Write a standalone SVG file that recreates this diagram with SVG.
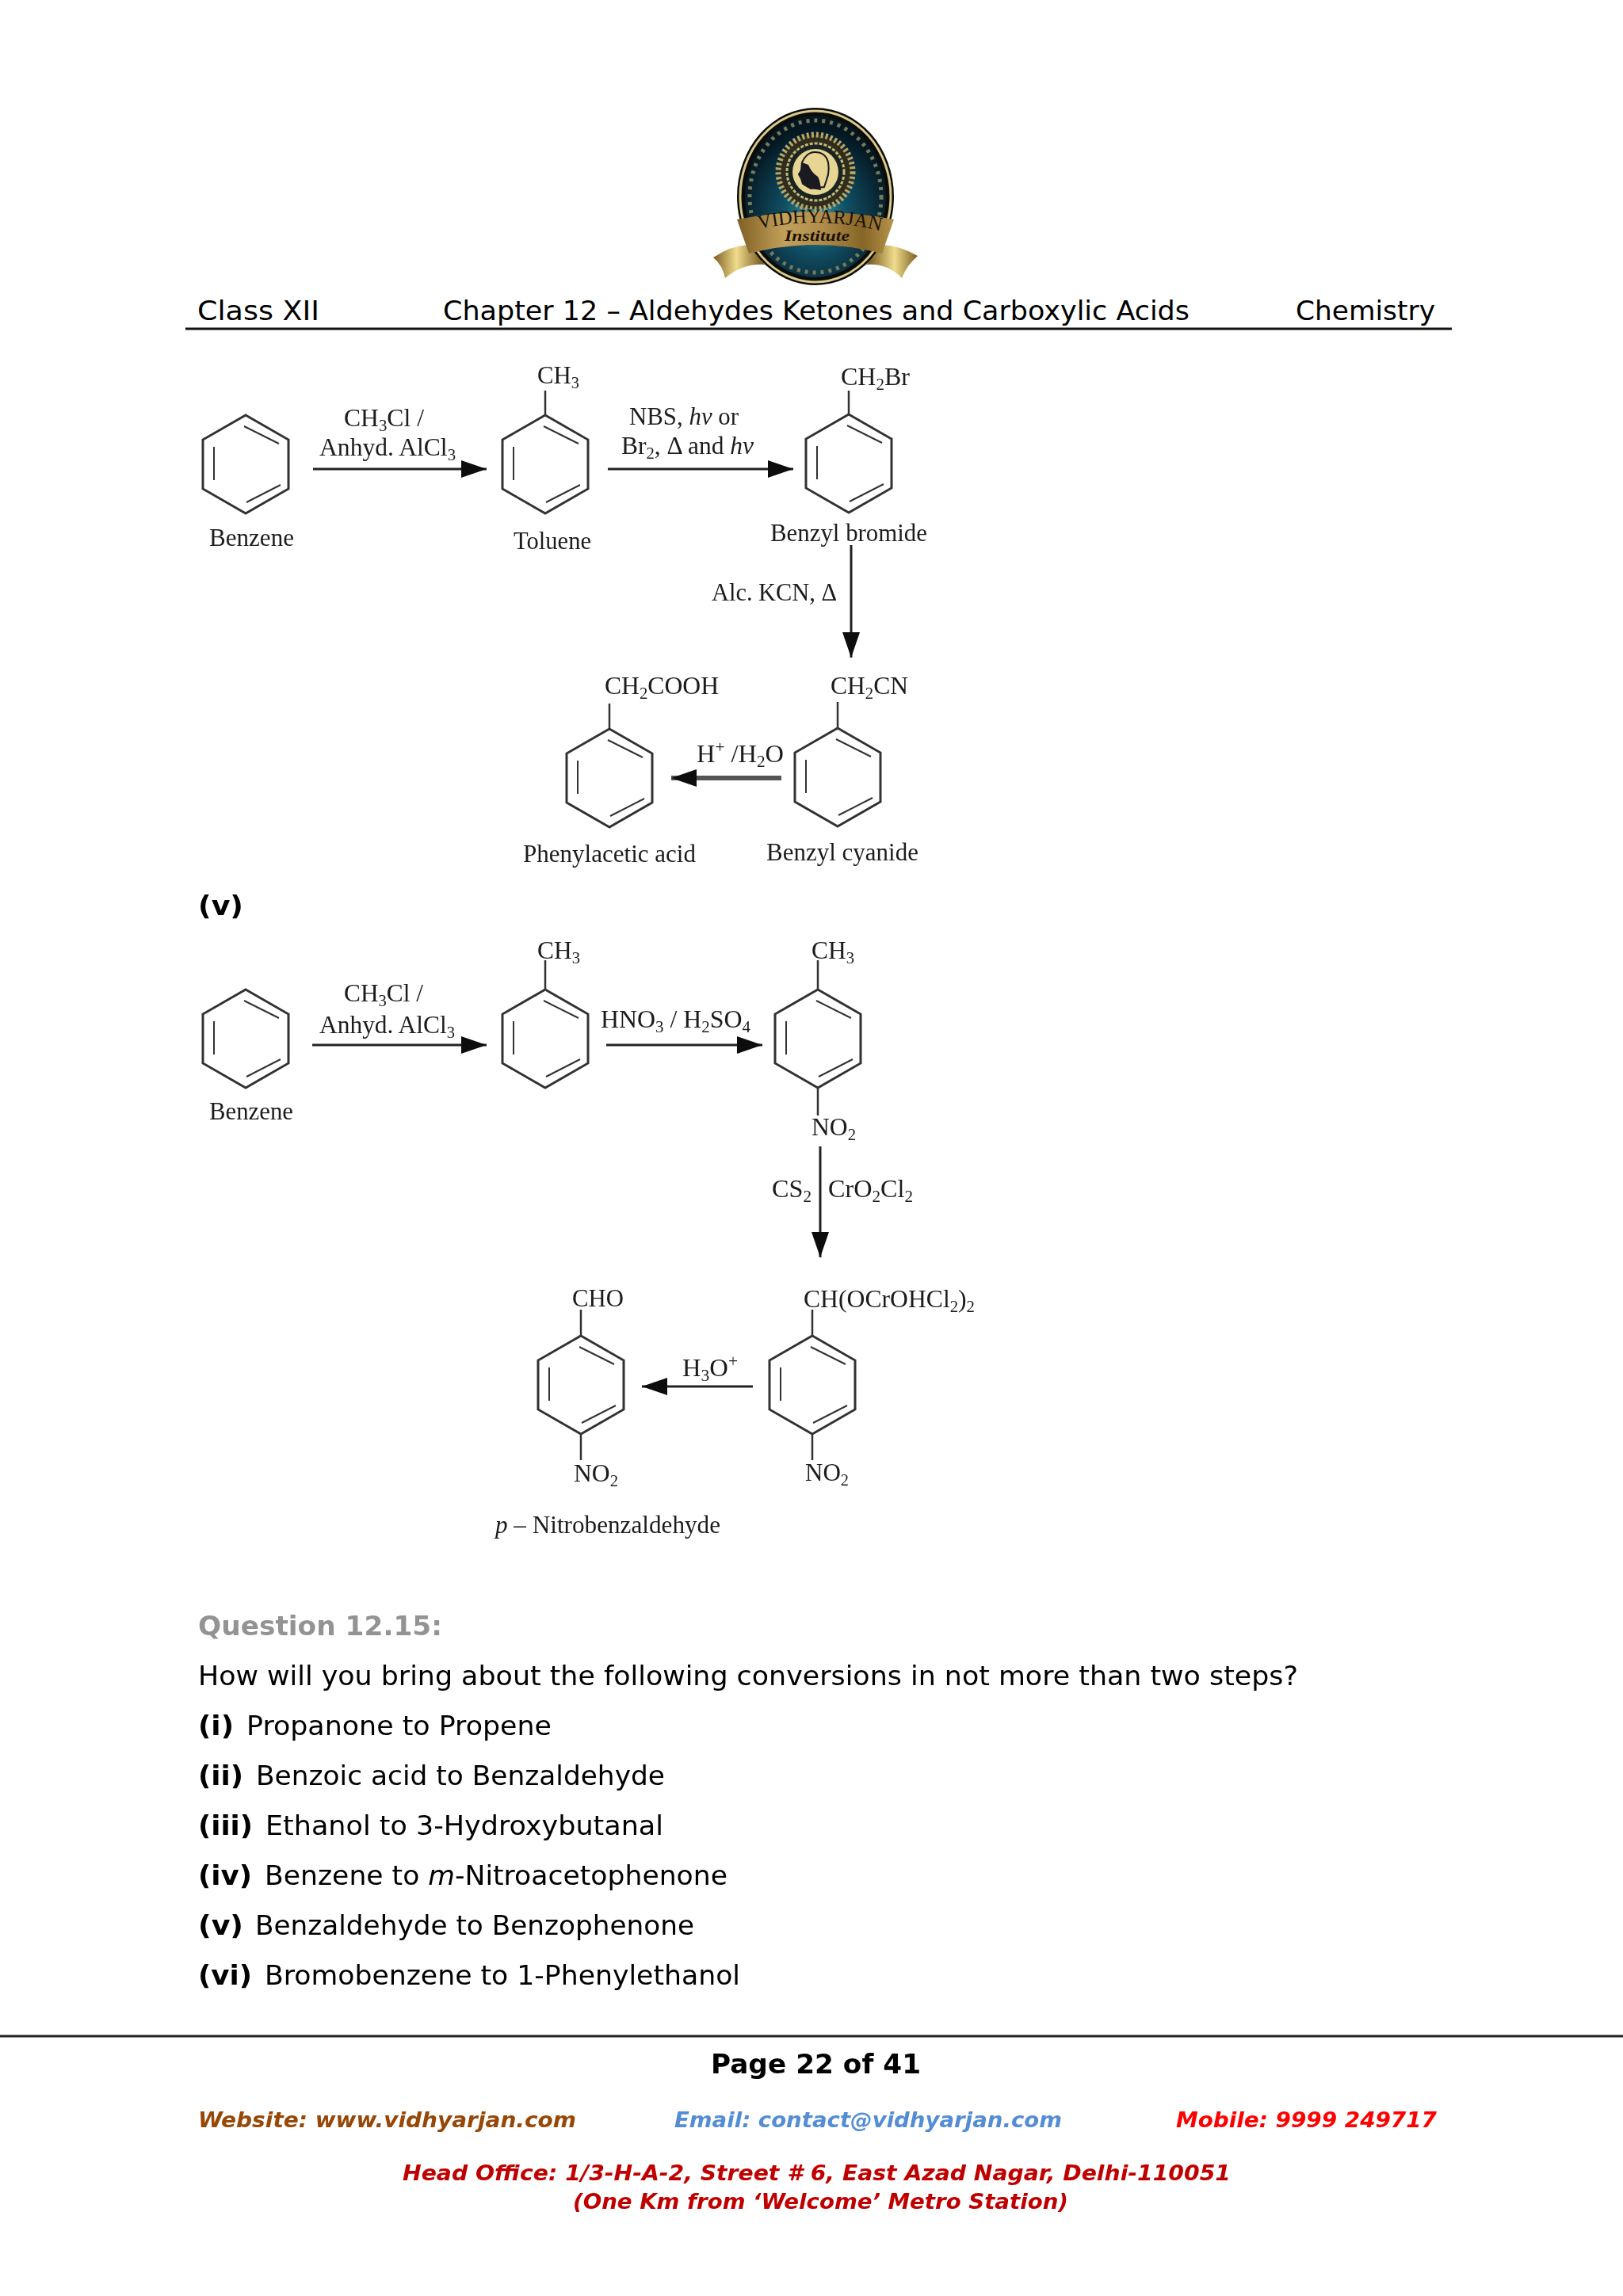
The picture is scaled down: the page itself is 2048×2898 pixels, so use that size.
<svg xmlns="http://www.w3.org/2000/svg" xmlns:xlink="http://www.w3.org/1999/xlink" width="2048" height="2898" viewBox="0 0 2048 2898">
<style>
.pg{font-family:"DejaVu Sans",Verdana,sans-serif;font-size:34px;fill:#000}
.b{font-weight:bold}
.ft{font-family:"DejaVu Sans",Verdana,sans-serif;font-size:26px;font-weight:bold;font-style:italic}
.c{font-family:"Liberation Serif","Times New Roman",serif;font-size:32px;fill:#1c1c1c}
.s{font-size:21px}
.i{font-style:italic}
.bond{stroke:#333;stroke-width:2.5;fill:none}
.ring{stroke:#333;stroke-width:3;fill:none;stroke-linejoin:miter}
.in{stroke:#333;stroke-width:2;fill:none}
.arr{stroke:#222;stroke-width:3;fill:none;marker-end:url(#ah)}
</style>
<defs>
<marker id="ah" markerUnits="userSpaceOnUse" markerWidth="32" markerHeight="24" viewBox="0 0 32 24" refX="32" refY="12" orient="auto"><path d="M0,1L32,12L0,23Z" fill="#111"/></marker>
<g id="ringA"><path class="ring" d="M0,-62L54,-31L54,31L0,62L-54,31L-54,-31Z"/><path class="in" d="M-2,-48L42,-26M-40,-22L-40,20M1,48L44,26"/></g>
<filter id="soft" filterUnits="userSpaceOnUse" x="0" y="430" width="2048" height="1550"><feGaussianBlur stdDeviation="0.55"/></filter>
<radialGradient id="teal" cx="50%" cy="62%" r="55%"><stop offset="0" stop-color="#3b9aa2"/><stop offset=".4" stop-color="#115066"/><stop offset="1" stop-color="#04161f"/></radialGradient>
<linearGradient id="gold" x1="0" x2="1" y1="0" y2="0"><stop offset="0" stop-color="#7f5f24"/><stop offset=".3" stop-color="#c2a05a"/><stop offset=".55" stop-color="#b08b4a"/><stop offset=".8" stop-color="#866526"/><stop offset="1" stop-color="#b4934a"/></linearGradient>
<linearGradient id="tailL" x1="0" x2="1" y1="0" y2="0"><stop offset="0" stop-color="#7c5d1e"/><stop offset=".45" stop-color="#f0dc8c"/><stop offset="1" stop-color="#6e4f18"/></linearGradient>
<linearGradient id="tailR" x1="1" x2="0" y1="0" y2="0"><stop offset="0" stop-color="#7c5d1e"/><stop offset=".45" stop-color="#f0dc8c"/><stop offset="1" stop-color="#6e4f18"/></linearGradient>
<path id="rb" d="M946,292Q1029,270 1112,292"/>
</defs>
<rect width="2048" height="2898" fill="#fff"/>

<g id="logo">
<path d="M900,325Q922,310 945,309L965,334Q938,332 915,351Q912,335 900,325Z" fill="url(#tailL)"/>
<path d="M1158,323Q1136,310 1113,309L1093,334Q1120,332 1138,351Q1144,335 1158,323Z" fill="url(#tailR)"/>
<ellipse cx="1029" cy="248" rx="99" ry="112" fill="#0c0c08"/>
<ellipse cx="1029" cy="248" rx="95" ry="108" fill="none" stroke="#d8c98c" stroke-width="3"/>
<ellipse cx="1029" cy="248" rx="90" ry="103" fill="url(#teal)" stroke="#0c0c08" stroke-width="2"/>
<ellipse cx="1029" cy="248" rx="83" ry="96" fill="none" stroke="#77785a" stroke-width="5" stroke-dasharray="4 6"/>
<circle cx="1029" cy="217" r="47" fill="#2f2d1e" stroke="#b8a666" stroke-width="7" stroke-dasharray="3 3"/>
<circle cx="1029" cy="217" r="36" fill="#1a2522" stroke="#c8b878" stroke-width="3" stroke-dasharray="4 2"/>
<circle cx="1029" cy="217" r="29" fill="#e6d593"/>
<path d="M1012,205Q1018,192 1028,192Q1042,192 1045,205Q1047,218 1043,227L1040,236L1023,238L1013,232Q1012,226 1008,220L1011,215Z" fill="#e6d593" stroke="#1b1a20" stroke-width="2"/>
<path d="M1012,205L1011,215L1008,220Q1012,226 1013,232L1023,238L1036,240Q1035,228 1032,223Q1024,218 1020,208Z" fill="#1b1a20"/>
<path d="M930,277Q1029,258 1128,277L1113,320Q1029,298 945,320Z" fill="url(#gold)"/>
<text font-family="Liberation Serif,serif" font-size="25" fill="#1a1208"><textPath href="#rb" xlink:href="#rb" startOffset="12" textLength="155" lengthAdjust="spacingAndGlyphs">VIDHYARJAN</textPath></text>
<text x="990" y="304" font-family="Liberation Serif,serif" font-size="18" font-weight="bold" font-style="italic" fill="#1a1208" textLength="82" lengthAdjust="spacingAndGlyphs">Institute</text>
</g>

<g id="header">
<text class="pg" x="249" y="404" textLength="154" lengthAdjust="spacingAndGlyphs">Class XII</text>
<text class="pg" x="559" y="404" textLength="942" lengthAdjust="spacingAndGlyphs">Chapter 12 – Aldehydes Ketones and Carboxylic Acids</text>
<text class="pg" x="1635" y="404" textLength="176" lengthAdjust="spacingAndGlyphs">Chemistry</text>
<path d="M234,415H1832" stroke="#111" stroke-width="3"/>
</g>

<g filter="url(#soft)">
<g id="connectors">
<path class="arr" d="M395,592H614"/>
<path class="arr" d="M767,592H1001"/>
<path class="arr" d="M1074,688V830"/>
<path class="arr" d="M986,982H847" style="stroke:#555;stroke-width:6"/>
<path class="arr" d="M394,1319H614"/>
<path class="arr" d="M765,1319H962"/>
<path class="arr" d="M1035,1447V1587"/>
<path class="arr" d="M950,1750H810"/>
<text class="c" x="434" y="538" textLength="101" lengthAdjust="spacingAndGlyphs">CH<tspan class="s" dy="6">3</tspan><tspan dy="-6">Cl /</tspan></text>
<text class="c" x="403" y="575" textLength="172" lengthAdjust="spacingAndGlyphs">Anhyd. AlCl<tspan class="s" dy="6">3</tspan></text>
<text class="c" x="794" y="536" textLength="138" lengthAdjust="spacingAndGlyphs">NBS, <tspan class="i">hv</tspan> or</text>
<text class="c" x="784" y="573" textLength="167" lengthAdjust="spacingAndGlyphs">Br<tspan class="s" dy="6">2</tspan><tspan dy="-6">, Δ and </tspan><tspan class="i">hv</tspan></text>
<text class="c" x="898" y="758" textLength="158" lengthAdjust="spacingAndGlyphs">Alc. KCN, Δ</text>
<text class="c" x="879" y="962" textLength="110" lengthAdjust="spacingAndGlyphs">H<tspan class="s" dy="-12">+</tspan><tspan dy="12"> /H</tspan><tspan class="s" dy="6">2</tspan><tspan dy="-6">O</tspan></text>
<text class="c" x="434" y="1264" textLength="100" lengthAdjust="spacingAndGlyphs">CH<tspan class="s" dy="6">3</tspan><tspan dy="-6">Cl /</tspan></text>
<text class="c" x="403" y="1304" textLength="171" lengthAdjust="spacingAndGlyphs">Anhyd. AlCl<tspan class="s" dy="6">3</tspan></text>
<text class="c" x="758" y="1297" textLength="189" lengthAdjust="spacingAndGlyphs">HNO<tspan class="s" dy="6">3</tspan><tspan dy="-6"> / H</tspan><tspan class="s" dy="6">2</tspan><tspan dy="-6">SO</tspan><tspan class="s" dy="6">4</tspan></text>
<text class="c" x="974" y="1511" textLength="50" lengthAdjust="spacingAndGlyphs">CS<tspan class="s" dy="6">2</tspan></text>
<text class="c" x="1045" y="1511" textLength="107" lengthAdjust="spacingAndGlyphs">CrO<tspan class="s" dy="6">2</tspan><tspan dy="-6">Cl</tspan><tspan class="s" dy="6">2</tspan></text>
<text class="c" x="861" y="1737" textLength="70" lengthAdjust="spacingAndGlyphs">H<tspan class="s" dy="6">3</tspan><tspan dy="-6">O</tspan><tspan class="s" dy="-12">+</tspan></text>
</g>

<g id="benzene1"><use href="#ringA" xlink:href="#ringA" x="310" y="586"/><text class="c" x="264" y="689" textLength="107" lengthAdjust="spacingAndGlyphs">Benzene</text></g>
<g id="toluene1"><use href="#ringA" xlink:href="#ringA" x="688" y="586"/><path class="bond" d="M688,524V493"/><text class="c" x="678" y="484" textLength="53" lengthAdjust="spacingAndGlyphs">CH<tspan class="s" dy="6">3</tspan></text><text class="c" x="648" y="693" textLength="98" lengthAdjust="spacingAndGlyphs">Toluene</text></g>
<g id="benzyl-bromide"><use href="#ringA" xlink:href="#ringA" x="1071" y="585"/><path class="bond" d="M1071,523V493"/><text class="c" x="1061" y="486" textLength="87" lengthAdjust="spacingAndGlyphs">CH<tspan class="s" dy="6">2</tspan><tspan dy="-6">Br</tspan></text><text class="c" x="972" y="683" textLength="198" lengthAdjust="spacingAndGlyphs">Benzyl bromide</text></g>
<g id="phenylacetic-acid"><use href="#ringA" xlink:href="#ringA" x="769" y="982"/><path class="bond" d="M769,920V888"/><text class="c" x="763" y="876" textLength="144" lengthAdjust="spacingAndGlyphs">CH<tspan class="s" dy="6">2</tspan><tspan dy="-6">COOH</tspan></text><text class="c" x="660" y="1088" textLength="218" lengthAdjust="spacingAndGlyphs">Phenylacetic acid</text></g>
<g id="benzyl-cyanide"><use href="#ringA" xlink:href="#ringA" x="1057" y="981"/><path class="bond" d="M1057,919V886"/><text class="c" x="1048" y="876" textLength="98" lengthAdjust="spacingAndGlyphs">CH<tspan class="s" dy="6">2</tspan><tspan dy="-6">CN</tspan></text><text class="c" x="967" y="1086" textLength="192" lengthAdjust="spacingAndGlyphs">Benzyl cyanide</text></g>

<g id="benzene2"><use href="#ringA" xlink:href="#ringA" x="310" y="1311"/><text class="c" x="264" y="1413" textLength="106" lengthAdjust="spacingAndGlyphs">Benzene</text></g>
<g id="toluene2"><use href="#ringA" xlink:href="#ringA" x="688" y="1311"/><path class="bond" d="M688,1249V1212"/><text class="c" x="678" y="1210" textLength="54" lengthAdjust="spacingAndGlyphs">CH<tspan class="s" dy="6">3</tspan></text></g>
<g id="nitrotoluene"><use href="#ringA" xlink:href="#ringA" x="1032" y="1311"/><path class="bond" d="M1032,1249V1212M1032,1373V1408"/><text class="c" x="1024" y="1210" textLength="54" lengthAdjust="spacingAndGlyphs">CH<tspan class="s" dy="6">3</tspan></text><text class="c" x="1024" y="1433" textLength="56" lengthAdjust="spacingAndGlyphs">NO<tspan class="s" dy="6">2</tspan></text></g>
<g id="chromium-complex"><use href="#ringA" xlink:href="#ringA" x="1025" y="1748"/><path class="bond" d="M1025,1686V1653M1025,1810V1843"/><text class="c" x="1014" y="1650" textLength="216" lengthAdjust="spacingAndGlyphs">CH(OCrOHCl<tspan class="s" dy="6">2</tspan><tspan dy="-6">)</tspan><tspan class="s" dy="6">2</tspan></text><text class="c" x="1016" y="1869" textLength="55" lengthAdjust="spacingAndGlyphs">NO<tspan class="s" dy="6">2</tspan></text></g>
<g id="nitrobenzaldehyde"><use href="#ringA" xlink:href="#ringA" x="733" y="1748"/><path class="bond" d="M733,1686V1653M733,1810V1843"/><text class="c" x="722" y="1649" textLength="65" lengthAdjust="spacingAndGlyphs">CHO</text><text class="c" x="724" y="1870" textLength="56" lengthAdjust="spacingAndGlyphs">NO<tspan class="s" dy="6">2</tspan></text><text class="c" x="625" y="1935" textLength="284" lengthAdjust="spacingAndGlyphs"><tspan class="i">p</tspan> – Nitrobenzaldehyde</text></g>
</g>

<g id="body">
<text class="pg b" x="250" y="1155" textLength="57" lengthAdjust="spacingAndGlyphs">(v)</text>
<text class="pg b" x="250" y="2064" textLength="308" lengthAdjust="spacingAndGlyphs" style="fill:#939393">Question 12.15:</text>
<text class="pg" x="250" y="2127" textLength="1388" lengthAdjust="spacingAndGlyphs">How will you bring about the following conversions in not more than two steps?</text>
<text class="pg b" x="250" y="2190" textLength="45" lengthAdjust="spacingAndGlyphs">(i)</text><text class="pg" x="311" y="2190" textLength="385" lengthAdjust="spacingAndGlyphs">Propanone to Propene</text>
<text class="pg b" x="250" y="2253" textLength="57" lengthAdjust="spacingAndGlyphs">(ii)</text><text class="pg" x="323" y="2253" textLength="516" lengthAdjust="spacingAndGlyphs">Benzoic acid to Benzaldehyde</text>
<text class="pg b" x="250" y="2316" textLength="69" lengthAdjust="spacingAndGlyphs">(iii)</text><text class="pg" x="335" y="2316" textLength="502" lengthAdjust="spacingAndGlyphs">Ethanol to 3-Hydroxybutanal</text>
<text class="pg b" x="250" y="2379" textLength="68" lengthAdjust="spacingAndGlyphs">(iv)</text><text class="pg" x="334" y="2379" textLength="584" lengthAdjust="spacingAndGlyphs">Benzene to <tspan class="i">m</tspan>-Nitroacetophenone</text>
<text class="pg b" x="250" y="2442" textLength="57" lengthAdjust="spacingAndGlyphs">(v)</text><text class="pg" x="322" y="2442" textLength="554" lengthAdjust="spacingAndGlyphs">Benzaldehyde to Benzophenone</text>
<text class="pg b" x="250" y="2505" textLength="68" lengthAdjust="spacingAndGlyphs">(vi)</text><text class="pg" x="334" y="2505" textLength="600" lengthAdjust="spacingAndGlyphs">Bromobenzene to 1-Phenylethanol</text>
</g>

<g id="footer">
<path d="M0,2570H2048" stroke="#222" stroke-width="3"/>
<text class="pg b" x="897" y="2617" textLength="265" lengthAdjust="spacingAndGlyphs">Page 22 of 41</text>
<text class="ft" x="250" y="2685" fill="#974706" textLength="477" lengthAdjust="spacingAndGlyphs">Website: www.vidhyarjan.com</text>
<text class="ft" x="851" y="2685" fill="#548dd4" textLength="489" lengthAdjust="spacingAndGlyphs">Email: contact@vidhyarjan.com</text>
<text class="ft" x="1484" y="2685" fill="#ff0000" textLength="329" lengthAdjust="spacingAndGlyphs">Mobile: 9999 249717</text>
<text class="ft" x="508" y="2752" fill="#c00000" textLength="1045" lengthAdjust="spacingAndGlyphs">Head Office: 1/3-H-A-2, Street # 6, East Azad Nagar, Delhi-110051</text>
<text class="ft" x="723" y="2788" fill="#c00000" textLength="625" lengthAdjust="spacingAndGlyphs">(One Km from ‘Welcome’ Metro Station)</text>
</g>
</svg>
